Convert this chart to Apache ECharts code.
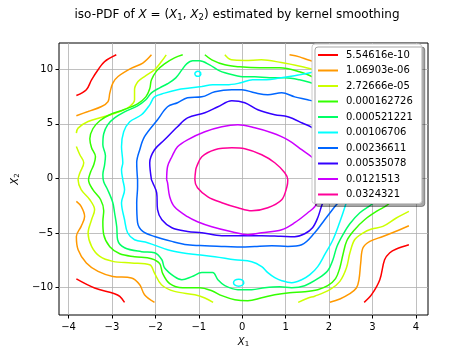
<!DOCTYPE html>
<html><head><meta charset="utf-8">
<script src="https://cdn.jsdelivr.net/npm/echarts@6/dist/echarts.min.js"></script>
<style>html,body{margin:0;padding:0;background:#fff}#c{width:474px;height:355px}</style>
</head><body><div id="c"></div>
<script>
const levelNames = ['5.54616e-10','1.06903e-06','2.72666e-05','0.000162726','0.000521221','0.00106706','0.00236611','0.00535078','0.0121513','0.0324321'];
const xTicks = [-4,-3,-2,-1,0,1,2,3,4];
const yTicks = [-10,-5,0,5,10];

// level 0
const red_ul = [[-3.82,7.59],[-3.59,8.12],[-3.47,9.03],[-3.32,9.95],[-3.17,10.7],[-2.90,11.32]];
const red_ll = [[-3.82,-9.20],[-3.40,-10.03],[-2.94,-10.55],[-2.82,-10.80],[-2.71,-11.34]];
const red_lr = [[2.81,-11.34],[2.98,-10.64],[3.17,-9.27],[3.28,-7.44],[3.40,-6.80],[3.55,-6.46],[3.84,-6.07]];
// level 1
const orange_ul = [[-3.82,5.74],[-3.55,6.13],[-3.24,6.59],[-3.09,7.04],[-3.05,7.81],[-2.98,8.73],[-2.86,9.33],[-2.55,10.10],[-2.29,10.56],[-2.09,11.32]];
const orange_ur = [[1.09,11.32],[1.32,11.13],[1.51,10.86],[1.74,10.59],[2.25,10.13],[2.94,9.58],[3.85,9.03]];
const orange_ll = [[-3.82,-2.10],[-3.71,-2.56],[-3.63,-3.48],[-3.71,-4.39],[-3.82,-5.31],[-3.78,-6.52],[-3.59,-7.74],[-3.32,-8.51],[-2.98,-8.97],[-2.55,-9.11],[-2.36,-9.73],[-2.25,-10.64],[-2.02,-11.34]];
const orange_lr = [[2.02,-11.34],[2.25,-11.03],[2.48,-10.55],[2.63,-10.03],[2.69,-9.27],[2.73,-7.74],[2.78,-6.37],[2.94,-5.76],[3.24,-5.31],[3.63,-4.69],[3.84,-4.33]];
// level 2
const yellow_ul = [[-1.75,11.32],[-1.86,10.70],[-2.02,9.95],[-2.25,9.33],[-2.40,8.87],[-2.48,8.12],[-2.48,7.20],[-2.59,6.59],[-2.82,6.13],[-3.17,5.67],[-3.55,5.21],[-3.78,4.61],[-3.82,4.15]];
const yellow_l = [[-3.82,2.93],[-3.74,2.17],[-3.65,1.44],[-3.74,0.49],[-3.78,-0.12],[-3.71,-1.03],[-3.51,-1.95],[-3.40,-2.86],[-3.47,-3.78],[-3.55,-5.00],[-3.47,-6.22],[-3.28,-7.14],[-2.98,-7.59],[-2.55,-7.74],[-2.13,-7.90],[-2.02,-8.66],[-1.86,-9.73],[-1.56,-10.34],[-1.09,-10.64],[-0.86,-10.94],[-0.67,-11.34]];
const yellow_t = [[-0.40,11.32],[-0.25,10.86],[0.06,10.80],[0.44,10.86],[0.90,10.61],[1.36,10.25],[1.67,9.95],[2.02,9.58],[2.71,8.85],[3.85,8.12]];
const yellow_br = [[1.29,-11.34],[1.52,-10.94],[1.67,-10.78],[2.02,-10.18],[2.25,-9.42],[2.40,-8.20],[2.48,-6.83],[2.59,-5.61],[2.78,-5.00],[2.98,-4.63],[3.24,-4.39],[3.55,-3.62],[3.84,-3.02]];
// level 3
const green_l = [[-1.37,11.32],[-1.56,11.04],[-1.79,10.49],[-1.97,9.85],[-2.09,9.03],[-2.13,8.21],[-2.22,7.47],[-2.41,6.83],[-2.73,6.29],[-3.05,5.83],[-3.28,5.28],[-3.44,4.55],[-3.51,3.63],[-3.47,2.81],[-3.38,1.99],[-3.42,1.25],[-3.49,0.61],[-3.54,-0.12],[-3.44,-1.03],[-3.26,-1.95],[-3.19,-2.95],[-3.21,-3.96],[-3.19,-5.15],[-3.05,-6.25],[-2.82,-6.89],[-2.48,-7.16],[-2.09,-7.35],[-1.90,-7.80],[-1.83,-8.72],[-1.67,-9.63],[-1.37,-10.00],[-0.98,-10.00],[-0.70,-10.28],[-0.47,-10.73],[-0.17,-11.10],[0.13,-11.19],[0.45,-10.92],[0.75,-10.64],[1.09,-10.46],[1.44,-10.37],[1.74,-10.18],[1.97,-9.82],[2.15,-9.17],[2.25,-8.17],[2.32,-6.98],[2.41,-5.70],[2.59,-4.69],[2.82,-3.78],[3.12,-2.95],[3.35,-2.41],[3.58,-1.49],[3.85,-0.58]];
const green_t = [[-0.86,11.32],[-0.70,10.86],[-0.40,10.40],[-0.06,10.22],[0.40,10.13],[0.86,10.13],[1.32,9.76],[1.67,9.21],[2.02,8.48],[2.48,7.93],[3.17,7.47],[3.85,7.20]];
// level 4
const spring = [[3.85,6.29],[3.17,7.11],[2.48,7.84],[2.02,8.30],[1.67,8.66],[1.32,9.03],[0.98,9.21],[0.63,9.21],[0.29,9.30],[0.06,9.30],[-0.22,9.49],[-0.52,9.85],[-0.75,10.40],[-0.98,10.77],[-1.14,10.77],[-1.28,10.49],[-1.39,9.94],[-1.53,9.21],[-1.72,8.67],[-1.90,8.30],[-2.09,7.84],[-2.22,7.20],[-2.41,6.65],[-2.71,6.10],[-2.94,5.55],[-3.10,4.91],[-3.19,4.09],[-3.21,3.08],[-3.15,2.08],[-3.17,1.25],[-3.21,0.34],[-3.19,-0.30],[-3.10,-1.03],[-2.98,-2.22],[-2.94,-3.14],[-2.89,-4.42],[-2.87,-5.61],[-2.71,-6.34],[-2.32,-6.70],[-2.02,-6.80],[-1.85,-7.44],[-1.79,-8.17],[-1.56,-8.99],[-1.39,-9.27],[-1.16,-8.99],[-0.93,-8.62],[-0.68,-8.62],[-0.56,-9.27],[-0.40,-9.81],[-0.10,-10.18],[0.22,-10.18],[0.52,-10.00],[0.86,-9.91],[1.14,-10.00],[1.44,-9.82],[1.74,-9.18],[1.97,-8.45],[2.09,-7.44],[2.18,-6.25],[2.32,-5.15],[2.48,-4.14],[2.71,-3.14],[2.94,-2.50],[3.28,-1.49],[3.63,-0.58],[3.85,-0.12]];
// level 5
const cyan = [[1.67,9.76],[1.32,9.49],[1.09,9.33],[0.86,9.19],[0.56,9.03],[0.24,9.03],[-0.06,8.73],[-0.36,8.57],[-0.68,8.57],[-0.93,8.42],[-1.21,8.27],[-1.49,8.12],[-1.79,7.81],[-2.02,7.47],[-2.13,6.74],[-2.32,5.83],[-2.59,5.19],[-2.73,4.27],[-2.78,2.90],[-2.75,1.44],[-2.78,0.80],[-2.75,-0.12],[-2.71,-1.03],[-2.78,-2.22],[-2.71,-3.78],[-2.64,-4.97],[-2.48,-5.61],[-2.18,-5.88],[-1.72,-6.52],[-1.39,-6.80],[-1.03,-6.98],[-0.63,-7.16],[-0.17,-7.44],[0.22,-7.62],[0.45,-8.07],[0.59,-8.62],[0.75,-9.08],[0.91,-9.36],[1.14,-9.54],[1.37,-9.27],[1.56,-8.81],[1.74,-8.07],[1.90,-6.98],[2.09,-5.61],[2.25,-3.96],[2.36,-2.68],[2.48,-1.03],[2.59,1.71],[2.52,4.46],[2.36,7.20],[2.02,9.21],[1.67,9.76]];
const cyan_top = [[-0.95,9.58],[-0.97,9.74],[-1.02,9.81],[-1.07,9.74],[-1.09,9.58],[-1.07,9.42],[-1.02,9.35],[-0.97,9.42],[-0.95,9.58]];
const cyan_bot = [[0.04,-9.54],[0.005,-9.31],[-0.08,-9.22],[-0.165,-9.31],[-0.20,-9.54],[-0.165,-9.77],[-0.08,-9.86],[0.005,-9.77],[0.04,-9.54]];
// level 6
const blue = [[-2.41,-0.12],[-2.43,1.44],[-2.36,2.63],[-2.25,3.82],[-1.95,5.37],[-1.72,6.56],[-1.49,6.93],[-1.26,7.38],[-0.93,7.47],[-0.63,7.93],[-0.24,8.12],[-0.01,8.12],[0.29,7.84],[0.59,7.66],[0.91,7.84],[1.21,7.47],[1.51,7.20],[1.67,7.02],[1.97,6.47],[2.20,5.37],[2.36,3.54],[2.43,1.71],[2.41,-0.12],[2.29,-1.77],[2.13,-2.59],[1.90,-3.78],[1.67,-4.97],[1.37,-6.07],[1.05,-6.22],[0.68,-6.16],[0.29,-6.22],[-0.01,-6.28],[-0.40,-6.22],[-0.86,-6.16],[-1.26,-6.07],[-1.62,-5.76],[-2.02,-5.31],[-2.29,-4.85],[-2.41,-4.05],[-2.43,-2.22],[-2.41,-0.76],[-2.41,-0.12]];
// level 7
const darkblue = [[-2.09,-0.12],[-2.13,1.44],[-2.02,2.63],[-1.79,3.54],[-1.49,4.73],[-1.26,5.55],[-0.86,6.01],[-0.56,6.56],[-0.24,7.11],[0.06,6.93],[0.36,6.29],[0.75,5.83],[1.05,5.65],[1.37,5.10],[1.67,4.46],[1.83,3.08],[1.97,1.71],[2.02,0.34],[1.97,-1.03],[1.83,-2.50],[1.74,-3.60],[1.62,-4.51],[1.44,-5.06],[1.21,-5.33],[0.89,-5.29],[0.45,-5.24],[-0.01,-5.24],[-0.47,-5.24],[-0.93,-4.97],[-1.26,-4.85],[-1.62,-4.51],[-1.85,-3.78],[-1.95,-2.86],[-1.97,-1.31],[-2.06,-0.39],[-2.09,-0.12]];
// level 8
const violet = [[-1.74,-0.12],[-1.72,1.07],[-1.62,1.99],[-1.49,2.90],[-1.26,3.54],[-0.86,4.27],[-0.47,4.73],[-0.10,4.91],[0.29,4.64],[0.68,4.18],[1.05,3.54],[1.37,2.63],[1.67,1.71],[1.83,0.61],[1.88,-0.58],[1.79,-1.67],[1.67,-2.59],[1.51,-3.14],[1.21,-4.05],[0.91,-4.69],[0.45,-4.97],[0.13,-5.15],[-0.24,-4.88],[-0.70,-4.42],[-1.03,-3.96],[-1.26,-3.50],[-1.56,-2.59],[-1.67,-1.67],[-1.72,-0.39],[-1.74,-0.12]];
// level 9
const pink = [[-1.07,0.80],[-1.09,-0.12],[-1.03,-0.85],[-0.79,-1.68],[-0.47,-2.22],[-0.10,-2.68],[0.22,-2.96],[0.59,-2.68],[0.91,-1.95],[1.03,-0.76],[1.05,-0.12],[0.98,0.52],[0.75,1.44],[0.45,2.17],[0.06,2.72],[-0.24,2.81],[-0.63,2.63],[-0.93,1.99],[-1.05,1.07],[-1.07,0.80]];

const colors = ['#ff0000','#ff9900','#ccff00','#33ff00','#00ff66','#00ffff','#0066ff','#3300ff','#cc00ff','#ff0099'];
const pieces = [
  [0, red_ul],[0, red_ll],[0, red_lr],
  [1, orange_ul],[1, orange_ur],[1, orange_ll],[1, orange_lr],
  [2, yellow_ul],[2, yellow_l],[2, yellow_t],[2, yellow_br],
  [3, green_l],[3, green_t],
  [4, spring],
  [5, cyan],[5, cyan_top],[5, cyan_bot],
  [6, blue],[7, darkblue],[8, violet],[9, pink]
];
const FONT = 'DejaVu Sans';
const minus = v => String(v).replace('-', '\u2212');
const chart = echarts.init(document.getElementById('c'), null, {renderer:'canvas'});
const series = pieces.map(([lv, d]) => ({
  type:'line', name: levelNames[lv], data: d, symbol:'none', showSymbol:false,
  smooth: 0.35, animation:false, silent:true,
  lineStyle:{width:1.5, color: colors[lv]}, itemStyle:{color: colors[lv]}
}));
chart.setOption({
  animation:false,
  title:{
    text:'iso-PDF of {i|X} = ({i|X}{s|1}, {i|X}{s|2}) estimated by kernel smoothing',
    left:'center', top:3,
    textStyle:{fontFamily:FONT, fontSize:12, fontWeight:'normal', color:'#000',
      rich:{i:{fontFamily:FONT, fontStyle:'italic', fontSize:12, color:'#000'},
            s:{fontFamily:FONT, fontSize:8.5, color:'#000', verticalAlign:'bottom', padding:[5,0,0,0]}}}
  },
  grid:{left:59, top:43, width:369, height:272, show:true, borderColor:'#000', borderWidth:1, containLabel:false},
  legend:{
    data: levelNames.map(n => ({name:n, icon:'rect'})), orient:'vertical', left:312, top:44,
    itemWidth:20, itemHeight:2, itemGap:1.5, padding:[4,9,2,6],
    textStyle:{fontFamily:FONT, fontSize:10, lineHeight:14, height:14, color:'#000', padding:[0,0,0,3]},
    backgroundColor:'#fff', borderColor:'#cccccc', borderWidth:1, borderRadius:3,
    shadowColor:'rgba(0,0,0,0.35)', shadowOffsetX:3, shadowOffsetY:3, shadowBlur:0
  },
  xAxis:{type:'value', min:-4.22, max:4.28, splitNumber:8,
    axisLine:{show:false, onZero:false},
    axisTick:{show:true, length:3.5, lineStyle:{color:'#000'}, customValues:xTicks},
    axisLabel:{customValues:xTicks, formatter:minus, fontFamily:FONT, fontSize:10, color:'#000', margin:7},
    splitLine:{show:true, lineStyle:{color:'#b0b0b0', width:0.8}},
    name:'{i|X}{s|1}', nameLocation:'middle', nameGap:22,
    nameTextStyle:{rich:{i:{fontFamily:FONT, fontStyle:'italic', fontSize:10, color:'#000'},
      s:{fontFamily:FONT, fontSize:7, color:'#000', verticalAlign:'bottom', padding:[4,0,0,0]}}}
  },
  yAxis:{type:'value', min:-12.5, max:12.4, splitNumber:5,
    axisLine:{show:false, onZero:false},
    axisTick:{show:true, length:3.5, lineStyle:{color:'#000'}, customValues:yTicks},
    axisLabel:{customValues:yTicks, formatter:minus, fontFamily:FONT, fontSize:10, color:'#000', margin:6},
    splitLine:{show:true, lineStyle:{color:'#b0b0b0', width:0.8}},
    name:'{i|X}{s|2}', nameLocation:'middle', nameGap:34, nameRotate:90,
    nameTextStyle:{rich:{i:{fontFamily:FONT, fontStyle:'italic', fontSize:10, color:'#000'},
      s:{fontFamily:FONT, fontSize:7, color:'#000', verticalAlign:'bottom', padding:[4,0,0,0]}}}
  },
  series
});
</script></body></html>
